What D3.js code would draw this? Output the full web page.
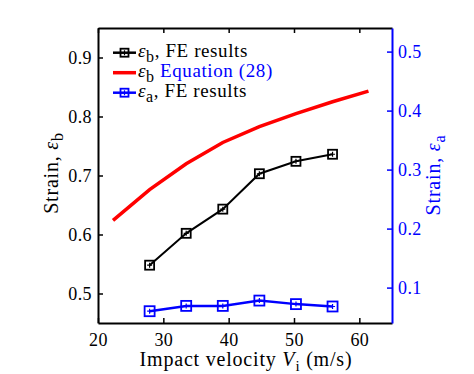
<!DOCTYPE html>
<html>
<head>
<meta charset="utf-8">
<script src="https://cdn.jsdelivr.net/npm/d3@7"></script>
<style>
  body { margin: 0; background: #fff; }
  text { font-family: "Liberation Serif", "Times New Roman", serif; }
</style>
</head>
<body>
<svg></svg>
<script>
const width = 474;
const height = 374;

// FE results
const velocity = [27.9, 33.5, 39.1, 44.7, 50.3, 55.9];
const strainB = [0.548, 0.602, 0.643, 0.703, 0.724, 0.736];
const strainA = [0.060, 0.069, 0.069, 0.078, 0.072, 0.068];

// Equation (28)
const eqVelocity = [22.3, 27.9, 33.5, 39.1, 44.7, 50.3, 55.9, 61.4];
const eqStrainB = [0.624, 0.676, 0.720, 0.756, 0.783, 0.805, 0.825, 0.843];

// ticks
const xTicks = [20, 30, 40, 50, 60];
const leftTicks = [0.5, 0.6, 0.7, 0.8, 0.9];
const rightTicks = [0.1, 0.2, 0.3, 0.4, 0.5];

const plot = { left: 98, right: 392, top: 28, bottom: 323 };
const blue = "#0000ff";

const svg = d3.select("svg").attr("width", width).attr("height", height);

const x = d3.scaleLinear().domain([20, 65]).range([plot.left, plot.right]);
const yL = d3.scaleLinear().domain([0.45, 0.95]).range([plot.bottom, plot.top]);
const yR = d3.scaleLinear().domain([0.04, 0.54]).range([plot.bottom, plot.top]);

function styleAxis(g, color, size) {
  g.select(".domain").attr("stroke", color).attr("stroke-width", 2);
  g.selectAll(".tick line").attr("stroke", color).attr("stroke-width", 1.5);
  g.selectAll(".tick text")
    .attr("fill", color)
    .style("font-family", "Liberation Serif, serif")
    .style("font-size", size + "px")
    .style("letter-spacing", "0.4px");
}

// ejes
svg.append("g")
  .attr("transform", `translate(0,${plot.bottom})`)
  .call(d3.axisBottom(x).tickValues(xTicks).tickSizeInner(-5).tickSizeOuter(0).tickPadding(10))
  .call((g) => styleAxis(g, "#000", 18));

svg.append("g")
  .attr("transform", `translate(0,${plot.top})`)
  .call(d3.axisTop(x).tickValues(xTicks).tickSizeInner(-5).tickSizeOuter(0).tickFormat(""))
  .call((g) => styleAxis(g, "#000", 18));

svg.append("g")
  .attr("transform", `translate(${plot.left},0)`)
  .call(d3.axisLeft(yL).tickValues(leftTicks).tickSizeInner(-5).tickSizeOuter(0).tickPadding(6).tickFormat(d3.format(".1f")))
  .call((g) => styleAxis(g, "#000", 18));

svg.append("g")
  .attr("transform", `translate(${plot.right},0)`)
  .call(d3.axisRight(yR).tickValues(rightTicks).tickSizeInner(-5).tickSizeOuter(0).tickPadding(6).tickFormat(d3.format(".1f")))
  .call((g) => styleAxis(g, blue, 18));

// series
function marker(g, cx, cy, color, s) {
  g.append("rect")
    .attr("x", cx - s / 2).attr("y", cy - s / 2)
    .attr("width", s).attr("height", s)
    .attr("fill", "none").attr("stroke", color).attr("stroke-width", 1.8);
  g.append("path")
    .attr("d", `M${cx - 2.5},${cy}H${cx + 2.5}M${cx},${cy - 2.5}V${cy + 2.5}`)
    .attr("stroke", color).attr("stroke-width", 1.2);
}

const eqData = eqVelocity.map((v, i) => [v, eqStrainB[i]]);
svg.append("path")
  .datum(eqData)
  .attr("fill", "none")
  .attr("stroke", "#ff0000")
  .attr("stroke-width", 3.5)
  .attr("d", d3.line().x((d) => x(d[0])).y((d) => yL(d[1])));

const bData = velocity.map((v, i) => [v, strainB[i]]);
svg.append("path")
  .datum(bData)
  .attr("fill", "none")
  .attr("stroke", "#000")
  .attr("stroke-width", 2)
  .attr("d", d3.line().x((d) => x(d[0])).y((d) => yL(d[1])));
const gb = svg.append("g");
bData.forEach((d) => marker(gb, x(d[0]), yL(d[1]), "#000", 9));

const aData = velocity.map((v, i) => [v, strainA[i]]);
svg.append("path")
  .datum(aData)
  .attr("fill", "none")
  .attr("stroke", blue)
  .attr("stroke-width", 2.5)
  .attr("d", d3.line().x((d) => x(d[0])).y((d) => yR(d[1])));
const ga = svg.append("g");
aData.forEach((d) => marker(ga, x(d[0]), yR(d[1]), blue, 10));

// leyenda
const legend = svg.append("g");
const rows = [
  { y: 52.7, color: "#000", mark: true, sub: "b", rest: ", FE results", restColor: "#000" },
  { y: 72.7, color: "#ff0000", mark: false, sub: "b", rest: " Equation (28)", restColor: blue },
  { y: 92.7, color: blue, mark: true, sub: "a", rest: ", FE results", restColor: "#000" }
];
rows.forEach((r) => {
  legend.append("line")
    .attr("x1", 113).attr("x2", 136).attr("y1", r.y).attr("y2", r.y)
    .attr("stroke", r.color).attr("stroke-width", r.mark ? 2.5 : 3.5);
  if (r.mark) marker(legend, 124.5, r.y, r.color, 8);
  const t = legend.append("text")
    .attr("x", 138).attr("y", r.y + 4)
    .style("font-size", "19px")
    .style("letter-spacing", "0.6px");
  t.append("tspan").style("font-style", "italic").text("ε");
  t.append("tspan").attr("dy", 5).style("font-size", "16px").text(r.sub);
  t.append("tspan").attr("dy", -5).attr("fill", r.restColor).text(r.rest);
});

// Etiquetas de los ejes
const xl = svg.append("text")
  .attr("x", 246).attr("y", 366)
  .style("text-anchor", "middle")
  .style("font-size", "20px")
  .style("letter-spacing", "0.8px");
xl.append("tspan").text("Impact velocity ");
xl.append("tspan").style("font-style", "italic").text("V");
xl.append("tspan").attr("dy", 5).style("font-size", "15px").text("i");
xl.append("tspan").attr("dy", -5).text(" (m/s)");

const yl = svg.append("text")
  .attr("transform", "rotate(-90)")
  .attr("x", -173).attr("y", 58)
  .style("text-anchor", "middle")
  .style("font-size", "20px")
  .style("letter-spacing", "0.8px");
yl.append("tspan").text("Strain, ");
yl.append("tspan").style("font-style", "italic").text("ε");
yl.append("tspan").attr("dy", 5).style("font-size", "16px").text("b");

const yr = svg.append("text")
  .attr("transform", "rotate(-90)")
  .attr("x", -175).attr("y", 440)
  .attr("fill", blue)
  .style("text-anchor", "middle")
  .style("font-size", "20px")
  .style("letter-spacing", "0.8px");
yr.append("tspan").text("Strain, ");
yr.append("tspan").style("font-style", "italic").text("ε");
yr.append("tspan").attr("dy", 5).style("font-size", "16px").text("a");
</script>
</body>
</html>
